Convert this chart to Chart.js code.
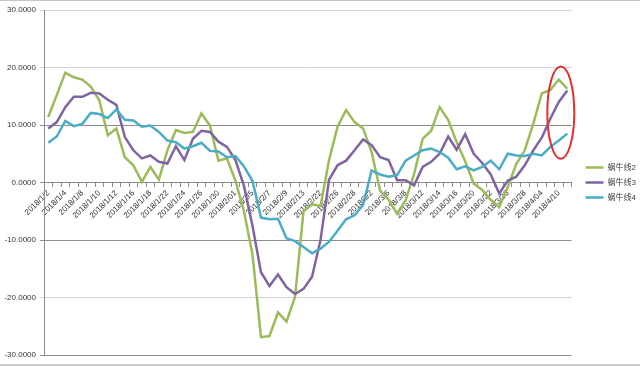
<!DOCTYPE html>
<html><head><meta charset="utf-8">
<script src="https://cdn.jsdelivr.net/npm/chart.js@4.4.1/dist/chart.umd.min.js"></script>
<style>
html,body{margin:0;padding:0;background:#fff;}
#wrap{position:relative;width:640px;height:367px;overflow:hidden;background:#fff;}
#lt{position:absolute;left:0;top:0;width:640px;height:1px;background:#c4c4c4;}
#lb{position:absolute;left:0;top:364px;width:640px;height:2px;background:#cfcfcf;}
canvas{position:absolute;left:0;top:0;}
</style></head><body>
<div id="wrap"><canvas id="c" width="640" height="367"></canvas><div id="lt"></div><div id="lb"></div></div>
<script>
const categories = [
 '2018/1/2','2018/1/3','2018/1/4','2018/1/5','2018/1/8','2018/1/9','2018/1/10','2018/1/11','2018/1/12','2018/1/15',
 '2018/1/16','2018/1/17','2018/1/18','2018/1/19','2018/1/22','2018/1/23','2018/1/24','2018/1/25','2018/1/26','2018/1/29',
 '2018/1/30','2018/1/31','2018/2/01','2018/2/2','2018/2/5','2018/2/6','2018/2/7','2018/2/8','2018/2/9','2018/2/12',
 '2018/2/13','2018/2/14','2018/2/22','2018/2/23','2018/2/26','2018/2/27','2018/2/28','2018/3/1','2018/3/2','2018/3/5',
 '2018/3/6','2018/3/7','2018/3/8','2018/3/9','2018/3/12','2018/3/13','2018/3/14','2018/3/15','2018/3/16','2018/3/19',
 '2018/3/20','2018/3/21','2018/3/22','2018/3/23','2018/3/26','2018/3/27','2018/3/28','2018/4/02','2018/4/04','2018/4/09',
 '2018/4/10','2018/4/11'
];
const seriesNames = ['蜗牛线2','蜗牛线3','蜗牛线4'];
const series2 = [
 11.4,15.2,19.1,18.3,17.9,16.7,14.3,8.2,9.4,4.4,
 3.0,0.1,2.7,0.5,5.6,9.1,8.6,8.8,12.0,9.9,
 3.8,4.2,0.3,-5.0,-12.5,-26.9,-26.7,-22.6,-24.2,-19.9,
 -5.0,-3.8,-4.1,3.9,9.7,12.6,10.5,9.4,5.3,-1.4,
 -3.0,-5.4,-3.1,1.5,7.6,9.0,13.1,10.9,7.0,3.7,
 -0.2,-1.3,-3.0,-4.3,-0.8,3.2,5.6,10.2,15.5,16.1,
 17.9,16.3
];
const series3 = [
 9.4,10.5,13.1,14.9,14.9,15.6,15.5,14.4,13.5,7.9,
 5.6,4.2,4.7,3.6,3.3,6.3,3.9,7.6,9.0,8.8,
 7.1,6.2,3.9,-0.6,-7.5,-15.6,-18.0,-16.0,-18.2,-19.4,
 -18.5,-16.4,-10.0,0.5,3.0,3.8,5.6,7.5,6.5,4.4,
 3.9,0.4,0.4,-0.5,2.7,3.6,5.0,8.0,5.7,8.4,
 5.0,3.4,1.4,-1.9,0.3,1.0,3.0,5.6,7.8,11.1,
 14.0,16.0
];
const series4 = [
 6.9,8.0,10.7,9.8,10.2,12.1,11.9,11.2,12.7,10.9,
 10.8,9.7,9.9,8.8,7.3,7.0,5.9,6.3,6.9,5.5,
 5.4,4.4,4.6,2.8,0.3,-6.1,-6.4,-6.3,-9.7,-10.2,
 -11.2,-12.3,-11.5,-10.3,-8.4,-6.4,-5.7,-3.9,2.1,1.4,
 1.0,1.3,3.8,4.7,5.6,5.9,5.3,4.3,2.3,2.8,
 2.1,2.7,3.8,2.3,5.0,4.7,4.6,5.0,4.7,6.2,
 7.3,8.5
];
const yTicks = [-30,-20,-10,0,10,20,30];
const colors = ['#9bbb59','#8064a2','#4bacc6'];

const FONT = "'Liberation Sans','Noto Sans CJK SC',sans-serif";

const ellipsePlugin = {
  id: 'ellipseMark',
  afterDatasetsDraw(chart) {
    const xs = chart.scales.x, ys = chart.scales.y, ctx = chart.ctx;
    const last = categories.length - 1;
    const vals = [];
    [series2, series3, series4].forEach(s => { for (let i = last - 2; i <= last; i++) vals.push(s[i]); });
    const top = ys.getPixelForValue(Math.max(...vals)) - 13;
    const bot = ys.getPixelForValue(Math.min(...vals)) + 12;
    const cx = xs.getPixelForValue(last - 1) + 2;
    ctx.save();
    ctx.beginPath();
    ctx.ellipse(cx, (top + bot) / 2, 13.5, (bot - top) / 2, 0, 0, Math.PI * 2);
    ctx.strokeStyle = '#e2312d';
    ctx.lineWidth = 2;
    ctx.stroke();
    ctx.restore();
  }
};
const legendShift = {
  id: 'legendShift',
  afterLayout(chart) { const l = chart.legend; if (l) { l.left += 7; l.right += 7; } }
};

new Chart(document.getElementById('c'), {
  type: 'line',
  data: {
    labels: categories,
    datasets: [series2, series3, series4].map((d, i) => ({
      label: seriesNames[i], data: d, borderColor: colors[i], backgroundColor: colors[i],
      borderWidth: 2.5, pointRadius: 0, tension: 0, fill: false, order: 3 - i
    }))
  },
  options: {
    responsive: false, animation: false, devicePixelRatio: 1,
    layout: { padding: { left: 0, top: 10, right: 1, bottom: 12 } },
    plugins: {
      tooltip: { enabled: false },
      legend: {
        position: 'right',
        labels: {
          usePointStyle: true, pointStyle: 'line', pointStyleWidth: 18, boxHeight: 8,
          padding: 7, color: '#404040', font: { family: FONT, size: 8 },
          sort: (a, b) => a.datasetIndex - b.datasetIndex
        }
      }
    },
    scales: {
      x: {
        type: 'category', position: { y: 0 }, offset: true,
        grid: { offset: true, drawOnChartArea: false, drawTicks: true, tickLength: 4, color: '#8c8c8c' },
        border: { color: '#8c8c8c', width: 1 },
        ticks: {
          autoSkip: false, minRotation: 45, maxRotation: 45, padding: 2,
          color: '#333333', font: { family: FONT, size: 8 },
          callback: (v, i) => (i % 2 === 0 ? categories[i] : '')
        }
      },
      y: {
        min: -30, max: 30,
        afterFit: s => { s.width = 44; },
        afterBuildTicks: s => { s.ticks = yTicks.map(v => ({ value: v })); },
        grid: {
          tickLength: 4,
          color: c => { const v = c.tick ? c.tick.value : 0; return (Math.abs(v) === 20 || v === 30) ? '#d4d4d4' : '#8c8c8c'; }
        },
        border: { color: '#8c8c8c', width: 1 },
        ticks: { padding: 4, color: '#333333', font: { family: FONT, size: 8 }, callback: v => Number(v).toFixed(4) }
      }
    }
  },
  plugins: [ellipsePlugin, legendShift]
});
</script>
</body></html>
